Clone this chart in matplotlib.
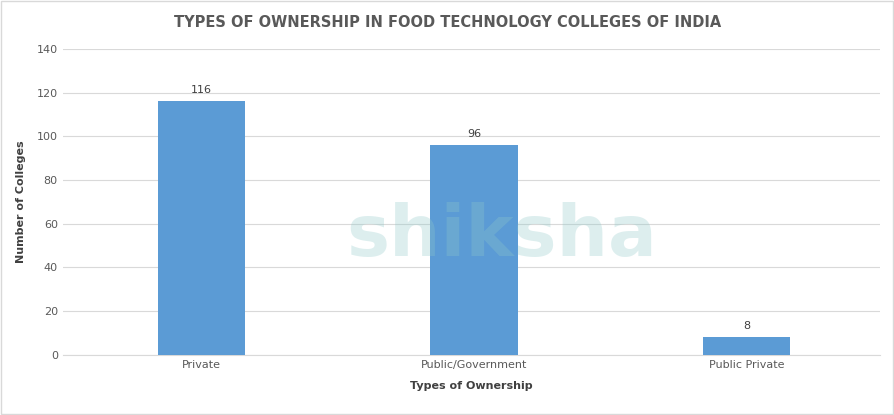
import matplotlib
matplotlib.use("Agg")
import matplotlib.pyplot as plt
from matplotlib.patches import Rectangle

categories = ["Private", "Public/Government", "Public Private"]
values = [116, 96, 8]

fig = plt.figure(figsize=(8.95, 4.15), dpi=100)
ax = fig.add_axes([0.070, 0.145, 0.913, 0.737])
bars = ax.bar(range(len(categories)), values, width=0.32, color="#5B9BD5", zorder=3)
for i, v in enumerate(values):
    ax.text(i, v + 3, str(v), ha="center", va="bottom", fontsize=8, color="#404040")
ax.set_xlim(-0.51, 2.49)
ax.set_ylim(0, 140)
ax.set_yticks(range(0, 141, 20))
ax.set_xticks(range(len(categories)))
ax.set_xticklabels(categories)
ax.tick_params(axis="both", length=0, labelsize=8, colors="#595959")
ax.grid(axis="y", color="#D9D9D9", linewidth=0.8, zorder=0)
for s in ["top", "right", "left"]:
    ax.spines[s].set_visible(False)
ax.spines["bottom"].set_color("#D9D9D9")
ax.set_xlabel("Types of Ownership", fontsize=8, fontweight="bold", color="#404040", labelpad=8)
ax.set_ylabel("Number of Colleges", fontsize=8, fontweight="bold", color="#404040", labelpad=8)
fig.text(0.5, 0.945, "TYPES OF OWNERSHIP IN FOOD TECHNOLOGY COLLEGES OF INDIA",
         ha="center", va="center", fontsize=10.5, fontweight="bold", color="#595959")
fig.text(0.56, 0.43, "shiksha", ha="center", va="center", fontsize=52, fontweight="bold",
         color="#8FC9C9", alpha=0.3, zorder=5)
fig.patches.append(Rectangle((0.001, 0.002), 0.997, 0.995, transform=fig.transFigure,
                             fill=False, edgecolor="#D9D9D9", linewidth=1))
fig.savefig("out.png", dpi=100)
